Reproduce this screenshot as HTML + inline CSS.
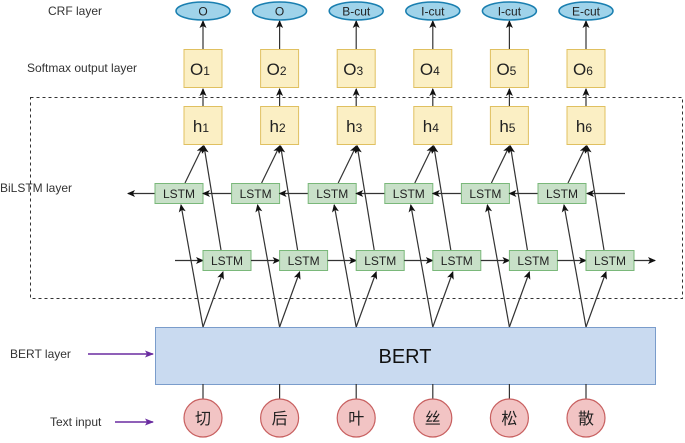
<!DOCTYPE html>
<html><head><meta charset="utf-8"><style>
html,body{margin:0;padding:0;background:#fff;width:685px;height:443px;overflow:hidden}
svg{display:block}
text{font-family:"Liberation Sans","Noto Sans CJK SC",sans-serif}
</style></head><body>
<svg id="s" width="685" height="443" viewBox="0 0 685 443" xmlns="http://www.w3.org/2000/svg">
<defs>
<marker id="a" markerWidth="8" markerHeight="8" refX="7" refY="4" orient="auto" markerUnits="userSpaceOnUse"><path d="M0,0.5 L8,4 L0,7.5 L2,4 Z" fill="#111"/></marker>
<marker id="p" markerWidth="9" markerHeight="8" refX="8" refY="4" orient="auto" markerUnits="userSpaceOnUse"><path d="M0,0.5 L9,4 L0,7.5 L2,4 Z" fill="#6a2ca0"/></marker>
</defs>
<rect x="30.5" y="97.5" width="652" height="201" fill="none" stroke="#333" stroke-dasharray="3,3" stroke-width="1"/>
<g font-size="12" fill="#333">
<text x="48" y="15">CRF layer</text>
<text x="27" y="72">Softmax output layer</text>
<text x="0" y="192">BiLSTM layer</text>
<text x="10" y="358">BERT layer</text>
<text x="50" y="426">Text input</text>
</g>
<line x1="88" y1="354" x2="153" y2="354" stroke="#6a2ca0" stroke-width="1.5" marker-end="url(#p)"/>
<line x1="115" y1="422" x2="153" y2="422" stroke="#6a2ca0" stroke-width="1.5" marker-end="url(#p)"/>
<rect x="155.5" y="327.5" width="500" height="57" fill="#c9daf0" stroke="#7a9ccb"/>
<text x="405" y="363" font-size="20" text-anchor="middle" fill="#111">BERT</text>
<g id="g"></g>
</svg>
<script>
var g=document.getElementById('g'),h='';
var crf=['O','O','B-cut','I-cut','I-cut','E-cut'],ch=['切','后','叶','丝','松','散'];
var L='stroke="#333" stroke-width="1.2"';
for(var i=0;i<6;i++){
 var c=203+76.6*i, b=c-24, f=c+24;
 // lines
 h+='<line x1="'+c+'" y1="49" x2="'+c+'" y2="21" '+L+' marker-end="url(#a)"/>';
 h+='<line x1="'+c+'" y1="106" x2="'+c+'" y2="89" '+L+' marker-end="url(#a)"/>';
 h+='<line x1="'+(c-18)+'" y1="183" x2="'+c+'" y2="146" '+L+' marker-end="url(#a)"/>';
 h+='<line x1="'+(f-6)+'" y1="250" x2="'+(c+1)+'" y2="146" '+L+' marker-end="url(#a)"/>';
 h+='<line x1="'+c+'" y1="327" x2="'+(b+2)+'" y2="205" '+L+' marker-end="url(#a)"/>';
 h+='<line x1="'+c+'" y1="327" x2="'+(f-4)+'" y2="272" '+L+' marker-end="url(#a)"/>';
 h+='<line x1="'+c+'" y1="384" x2="'+c+'" y2="399" '+L+'/>';
 // back chain
 var bx2=(i==0)?128:(b-76.6+24);
 h+='<line x1="'+(b-24)+'" y1="193.5" x2="'+bx2+'" y2="193.5" '+L+' marker-end="url(#a)"/>';
 var fx1=(i==0)?175:(f-76.6+24);
 h+='<line x1="'+fx1+'" y1="260.5" x2="'+(f-24)+'" y2="260.5" '+L+' marker-end="url(#a)"/>';
 // nodes
 h+='<ellipse cx="'+c+'" cy="11" rx="27" ry="9" fill="#9fd3ea" stroke="#1a7fb0" stroke-width="1.5"/>';
 h+='<text x="'+c+'" y="15.5" font-size="12" text-anchor="middle" fill="#222">'+crf[i]+'</text>';
 h+='<rect x="'+(c-19)+'" y="49.5" width="38" height="38" fill="#fbefc4" stroke="#e0c060"/>';
 h+='<text x="'+(c-3)+'" y="75" font-size="17" text-anchor="middle" fill="#222">O<tspan font-size="12">'+(i+1)+'</tspan></text>';
 h+='<rect x="'+(c-19)+'" y="106.5" width="38" height="38" fill="#fbefc4" stroke="#e0c060"/>';
 h+='<text x="'+(c-2)+'" y="132" font-size="17" text-anchor="middle" fill="#222">h<tspan font-size="12">'+(i+1)+'</tspan></text>';
 h+='<rect x="'+(b-24)+'" y="183.5" width="48" height="20" fill="#c8e0c8" stroke="#7ab87a"/>';
 h+='<text x="'+b+'" y="198" font-size="12" text-anchor="middle" fill="#222">LSTM</text>';
 h+='<rect x="'+(f-24)+'" y="250.5" width="48" height="20" fill="#c8e0c8" stroke="#7ab87a"/>';
 h+='<text x="'+f+'" y="265" font-size="12" text-anchor="middle" fill="#222">LSTM</text>';
 h+='<circle cx="'+c+'" cy="418" r="19" fill="#f2c4c4" stroke="#c86060" stroke-width="1.2"/>';
 h+='<text x="'+c+'" y="424" font-size="16" text-anchor="middle" fill="#222">'+ch[i]+'</text>';
}
var lb=203+76.6*5-24+24;
h+='<line x1="625" y1="193.5" x2="'+(lb+1)+'" y2="193.5" '+L+' marker-end="url(#a)"/>';
var lf=203+76.6*5+48;
h+='<line x1="'+lf+'" y1="260.5" x2="655" y2="260.5" '+L+' marker-end="url(#a)"/>';
g.innerHTML=h;
</script>
</body></html>
